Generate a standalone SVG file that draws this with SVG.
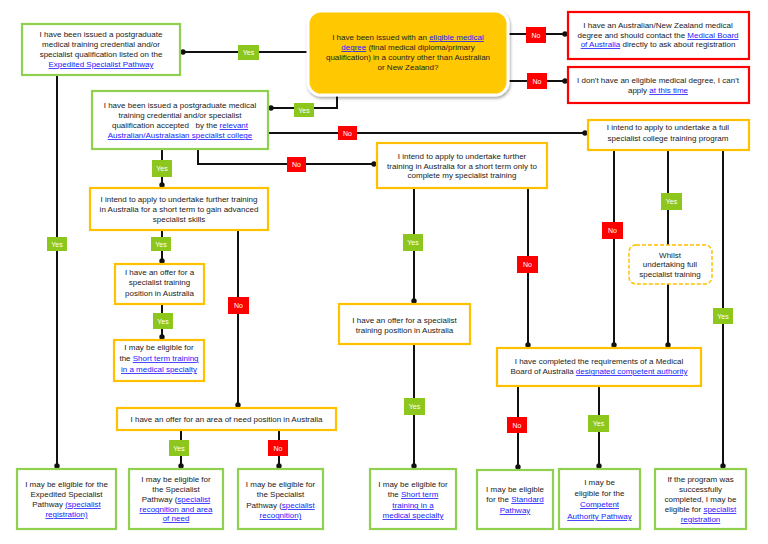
<svg xmlns="http://www.w3.org/2000/svg" width="768" height="544" viewBox="0 0 768 544">
<style>
.t{font-family:"Liberation Sans",Arial,sans-serif;font-size:8px;fill:#222;text-anchor:middle}
.lk{fill:#1a1aff;text-decoration:underline}
.g{fill:#fff;stroke:#8fd14f;stroke-width:2.2}
.y{fill:#fff;stroke:#ffc000;stroke-width:2.2}
.r{fill:#fff;stroke:#ff0000;stroke-width:2.2}
.c{fill:none;stroke:#111;stroke-width:2;marker-end:url(#dot)}
.cn{fill:none;stroke:#111;stroke-width:2}
.ly{fill:#8dc71e}
.ln{fill:#ff0000}
.lt{font-family:"Liberation Sans",Arial,sans-serif;font-size:7px;fill:#fff;text-anchor:middle}
</style>
<defs>
<marker id="dot" viewBox="0 0 6 6" refX="3" refY="3" markerWidth="6" markerHeight="6" markerUnits="userSpaceOnUse"><circle cx="3" cy="3" r="2.7" fill="#111"/></marker>
<filter id="sh" x="-10%" y="-10%" width="125%" height="130%"><feDropShadow dx="1" dy="2" stdDeviation="1.5" flood-color="#000" flood-opacity="0.35"/></filter>
</defs>
<rect width="768" height="544" fill="#fff"/>

<g id="connectors">
<path class="c" d="M308 52H183"/>
<path class="c" d="M508 34H565"/>
<path class="c" d="M508 81H565"/>
<path class="c" d="M337 95V108H271"/>
<path class="c" d="M268 133H585"/>
<path class="c" d="M198 149V164H374"/>
<path class="c" d="M162 149V185"/>
<path class="c" d="M162 230V261"/>
<path class="c" d="M162 304V337"/>
<path class="c" d="M238 230V405"/>
<path class="c" d="M57 75V466"/>
<path class="c" d="M181 430V466"/>
<path class="c" d="M279 430V466"/>
<path class="c" d="M414 188V301"/>
<path class="c" d="M414 344V466"/>
<path class="c" d="M528 188V345"/>
<path class="c" d="M614 150V345"/>
<path class="cn" d="M668 150V245"/>
<path class="c" d="M668 284V345"/>
<path class="c" d="M723 150V466"/>
<path class="c" d="M518 386V467"/>
<path class="c" d="M599 386V466"/>

<rect class="ly" x="238" y="45" width="21" height="15"/><text class="lt" x="248.5" y="55">Yes</text>
<rect class="ln" x="526" y="27" width="20" height="16"/><text class="lt" x="536" y="38">No</text>
<rect class="ln" x="527" y="73" width="20" height="16"/><text class="lt" x="537" y="84">No</text>
<rect class="ly" x="294" y="103" width="20" height="14"/><text class="lt" x="304" y="113">Yes</text>
<rect class="ln" x="338" y="126" width="19" height="14"/><text class="lt" x="347.5" y="136">No</text>
<rect class="ln" x="287" y="157" width="19" height="15"/><text class="lt" x="296.5" y="167">No</text>
<rect class="ly" x="152" y="160" width="20" height="17"/><text class="lt" x="162" y="171">Yes</text>
<rect class="ly" x="151" y="237" width="20" height="14"/><text class="lt" x="161" y="247">Yes</text>
<rect class="ly" x="153" y="313" width="20" height="16"/><text class="lt" x="163" y="324">Yes</text>
<rect class="ln" x="228" y="297" width="21" height="17"/><text class="lt" x="238.5" y="308">No</text>
<rect class="ly" x="47" y="237" width="20" height="14"/><text class="lt" x="57" y="247">Yes</text>
<rect class="ly" x="169" y="440" width="20" height="16"/><text class="lt" x="179" y="451">Yes</text>
<rect class="ln" x="268" y="440" width="20" height="16"/><text class="lt" x="278" y="451">No</text>
<rect class="ly" x="403" y="234" width="20" height="17"/><text class="lt" x="413" y="245">Yes</text>
<rect class="ly" x="404" y="398" width="21" height="17"/><text class="lt" x="414.5" y="409">Yes</text>
<rect class="ln" x="517" y="256" width="21" height="17"/><text class="lt" x="527.5" y="267">No</text>
<rect class="ln" x="602" y="222" width="21" height="17"/><text class="lt" x="612.5" y="233">No</text>
<rect class="ly" x="661" y="193" width="21" height="17"/><text class="lt" x="671.5" y="204">Yes</text>
<rect class="ly" x="713" y="308" width="20" height="16"/><text class="lt" x="723" y="319">Yes</text>
<rect class="ln" x="507" y="417" width="20" height="16"/><text class="lt" x="517" y="428">No</text>
<rect class="ly" x="588" y="415" width="21" height="17"/><text class="lt" x="598.5" y="426">Yes</text>
</g>

<g id="decision">
<rect x="308" y="11" width="200" height="84" rx="13" fill="#ffc800" stroke="#fff" stroke-width="3" filter="url(#sh)"/>
<text class="t" x="408" y="40">I have been issued with an <tspan class="lk">eligible medical</tspan></text>
<text class="t" x="408" y="50"><tspan class="lk">degree</tspan> (final medical diploma/primary</text>
<text class="t" x="408" y="60">qualification) in a country other than Australian</text>
<text class="t" x="408" y="70">or New Zealand?</text>
</g>

<g id="nodeA">
<rect class="g" x="22" y="24" width="158" height="51"/>
<text class="t" x="101" y="37">I have been issued a postgraduate</text>
<text class="t" x="101" y="47">medical training credential and/or</text>
<text class="t" x="101" y="57">specialist qualification listed on the</text>
<text class="t" x="101" y="67"><tspan class="lk">Expedited Specialist Pathway</tspan></text>
</g>

<g id="nodeB">
<rect class="g" x="92" y="91" width="176" height="58"/>
<text class="t" x="180" y="108">I have been issued a postgraduate medical</text>
<text class="t" x="180" y="118">training credential and/or specialist</text>
<text class="t" x="180" y="128">qualification accepted &#160; by the <tspan class="lk">relevant</tspan></text>
<text class="t" x="180" y="138"><tspan class="lk">Australian/Australasian specialist college</tspan></text>
</g>

<g id="red1">
<rect class="r" x="568" y="12" width="181" height="47"/>
<text class="t" x="658" y="28">I have an Australian/New Zealand medical</text>
<text class="t" x="658" y="38">degree and should contact the <tspan class="lk">Medical Board</tspan></text>
<text class="t" x="658" y="47"><tspan class="lk">of Australia</tspan> directly to ask about registration</text>
</g>

<g id="red2">
<rect class="r" x="568" y="67" width="181" height="36"/>
<text class="t" x="658" y="83">I don't have an eligible medical degree, I can't</text>
<text class="t" x="658" y="93">apply <tspan class="lk">at this time</tspan></text>
</g>

<g id="nodeE">
<rect class="y" x="588" y="120" width="161" height="30"/>
<text class="t" x="668" y="130">I intend to apply to undertake a full</text>
<text class="t" x="668" y="141">specialist college training program</text>
</g>

<g id="nodeD">
<rect class="y" x="377" y="143" width="170" height="45"/>
<text class="t" x="462" y="159">I intend to apply to undertake further</text>
<text class="t" x="462" y="169">training in Australia for a short term only to</text>
<text class="t" x="462" y="178">complete my specialist training</text>
</g>

<g id="nodeC">
<rect class="y" x="90" y="188" width="178" height="42"/>
<text class="t" x="179" y="202">I intend to apply to undertake further training</text>
<text class="t" x="179" y="212">in Australia for a short term to gain advanced</text>
<text class="t" x="179" y="222">specialist skills</text>
</g>

<g id="nodeF">
<rect class="y" x="115" y="264" width="89" height="40"/>
<text class="t" x="159.5" y="275">I have an offer for a</text>
<text class="t" x="159.5" y="285">specialist training</text>
<text class="t" x="159.5" y="296">position in Australia</text>
</g>

<g id="nodeG">
<rect class="y" x="114" y="340" width="90" height="41"/>
<text class="t" x="159" y="350">I may be eligible for</text>
<text class="t" x="159" y="361">the <tspan class="lk">Short term training</tspan></text>
<text class="t" x="159" y="372"><tspan class="lk">in a medical specialty</tspan></text>
</g>

<g id="nodeK">
<rect class="y" x="339" y="304" width="131" height="40"/>
<text class="t" x="404.5" y="323">I have an offer for a specialist</text>
<text class="t" x="404.5" y="333">training position in Australia</text>
</g>

<g id="whilst">
<rect x="629" y="245" width="83" height="39" rx="7" fill="#fff" stroke="#ffc000" stroke-width="1.5" stroke-dasharray="4 2"/>
<text class="t" x="670" y="258">Whilst</text>
<text class="t" x="670" y="267">undertaking full</text>
<text class="t" x="670" y="277">specialist training</text>
</g>

<g id="nodeJ">
<rect class="y" x="497" y="348" width="204" height="38"/>
<text class="t" x="599" y="364">I have completed the requirements of a Medical</text>
<text class="t" x="599" y="374">Board of Australia <tspan class="lk">designated competent authority</tspan></text>
</g>

<g id="nodeH">
<rect class="y" x="117" y="408" width="219" height="22"/>
<text class="t" x="226.5" y="422">I have an offer for an area of need position in Australia</text>
</g>

<g id="out1">
<rect class="g" x="17" y="469" width="99" height="60"/>
<text class="t" x="66.5" y="487">I may be eligible for the</text>
<text class="t" x="66.5" y="497">Expedited Specialist</text>
<text class="t" x="66.5" y="507">Pathway <tspan class="lk">(specialist</tspan></text>
<text class="t" x="66.5" y="517"><tspan class="lk">registration)</tspan></text>
</g>

<g id="out2">
<rect class="g" x="129" y="469" width="94" height="60"/>
<text class="t" x="176" y="482">I may be eligible for</text>
<text class="t" x="176" y="492">the Specialist</text>
<text class="t" x="176" y="502">Pathway (<tspan class="lk">specialist</tspan></text>
<text class="t" x="176" y="512"><tspan class="lk">recognition and area</tspan></text>
<text class="t" x="176" y="521"><tspan class="lk">of need</tspan></text>
</g>

<g id="out3">
<rect class="g" x="238" y="469" width="85" height="60"/>
<text class="t" x="280.5" y="487">I may be eligible for</text>
<text class="t" x="280.5" y="497">the Specialist</text>
<text class="t" x="280.5" y="508">Pathway (<tspan class="lk">specialist</tspan></text>
<text class="t" x="280.5" y="518"><tspan class="lk">recognition)</tspan></text>
</g>

<g id="out4">
<rect class="g" x="370" y="469" width="86" height="60"/>
<text class="t" x="413" y="487">I may be eligible for</text>
<text class="t" x="413" y="497">the <tspan class="lk">Short term</tspan></text>
<text class="t" x="413" y="508"><tspan class="lk">training in a</tspan></text>
<text class="t" x="413" y="518"><tspan class="lk">medical specialty</tspan></text>
</g>

<g id="out5">
<rect class="g" x="477" y="470" width="76" height="59"/>
<text class="t" x="515" y="492">I may be eligible</text>
<text class="t" x="515" y="502">for the <tspan class="lk">Standard</tspan></text>
<text class="t" x="515" y="513"><tspan class="lk">Pathway</tspan></text>
</g>

<g id="out6">
<rect class="g" x="559" y="469" width="81" height="60"/>
<text class="t" x="599.5" y="485">I may be</text>
<text class="t" x="599.5" y="496">eligible for the</text>
<text class="t" x="599.5" y="507"><tspan class="lk">Competent</tspan></text>
<text class="t" x="599.5" y="519"><tspan class="lk">Authority Pathway</tspan></text>
</g>

<g id="out7">
<rect class="g" x="655" y="469" width="91" height="60"/>
<text class="t" x="700.5" y="482">If the program was</text>
<text class="t" x="700.5" y="492">successfully</text>
<text class="t" x="700.5" y="502">completed, I may be</text>
<text class="t" x="700.5" y="512">eligible for <tspan class="lk">specialist</tspan></text>
<text class="t" x="700.5" y="522"><tspan class="lk">registration</tspan></text>
</g>
</svg>
